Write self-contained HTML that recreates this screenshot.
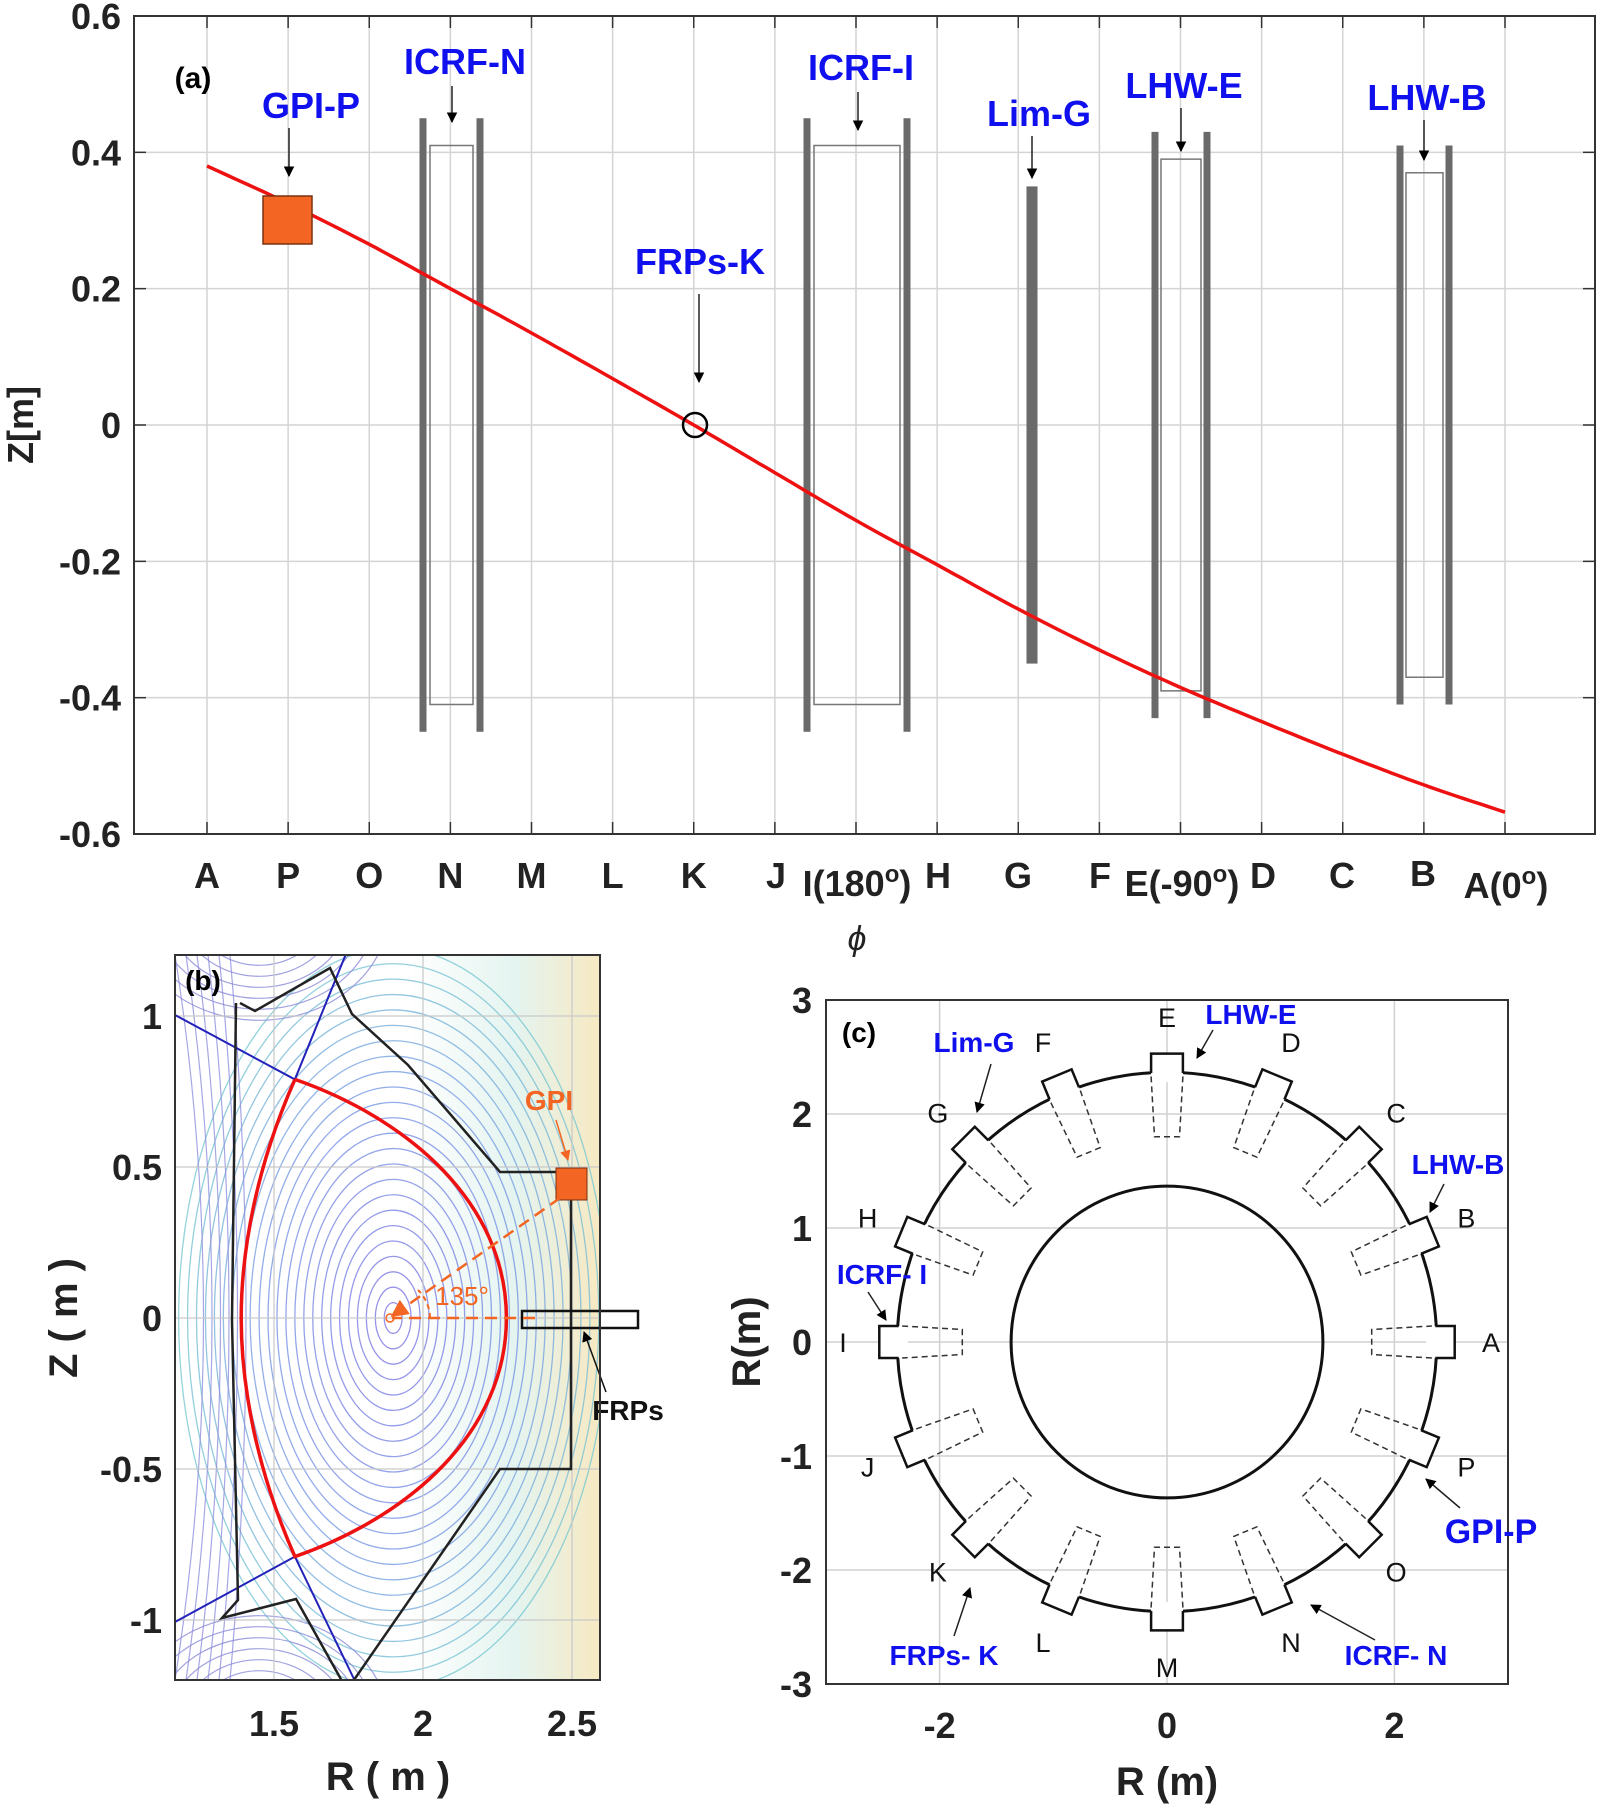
<!DOCTYPE html>
<html><head><meta charset="utf-8"><style>
html,body{margin:0;padding:0;background:#fff}
svg{display:block}
text{font-family:"Liberation Sans",Arial,sans-serif}
</style></head><body>
<svg id="s" width="1600" height="1811" viewBox="0 0 1600 1811" xmlns="http://www.w3.org/2000/svg">
<defs>
<linearGradient id="bg" x1="0" x2="1" y1="0" y2="0">
<stop offset="0" stop-color="#ffffff"/><stop offset="0.55" stop-color="#ffffff"/>
<stop offset="0.8" stop-color="#e4f4f0"/><stop offset="1" stop-color="#f7e9c2"/></linearGradient>
<clipPath id="cb"><rect x="175" y="955" width="425" height="725"/></clipPath>
<marker id="ar" viewBox="0 0 10 10" refX="9" refY="5" markerWidth="7" markerHeight="7" orient="auto"><path d="M0,0 L10,5 L0,10 z" fill="#000"/></marker>
<marker id="ao" viewBox="0 0 10 10" refX="9" refY="5" markerWidth="7" markerHeight="7" orient="auto"><path d="M0,0 L10,5 L0,10 z" fill="#f26522"/></marker>
</defs>
<g id="g"></g>
</svg>
<script>
var g=document.getElementById('g'),NS='http://www.w3.org/2000/svg';
function el(t,a,txt,par){var e=document.createElementNS(NS,t);for(var k in a)e.setAttribute(k,a[k]);if(txt!=null)e.textContent=txt;(par||g).appendChild(e);return e;}
function tx(x,y,s,sz,col,anc,bold,extra){var a={x:x,y:y,'font-size':sz,fill:col||'#000','text-anchor':anc||'middle'};if(bold)a['font-weight']='bold';for(var k in extra)a[k]=extra[k];return el('text',a,s);}
function ln(x1,y1,x2,y2,c,w,extra){var a={x1:x1,y1:y1,x2:x2,y2:y2,stroke:c,'stroke-width':w};for(var k in extra)a[k]=extra[k];return el('line',a);}
var BLUE='#1010ee';
// ===== Panel (a)
function ax(i){return 207+i*81.125;} function ay(z){return 425-z*681.7;}
el('rect',{x:134,y:16,width:1461,height:818,fill:'#fff'});
for(var i=0;i<=16;i++)ln(ax(i),16,ax(i),834,'#d4d4d4',1.5);
[-0.4,-0.2,0,0.2,0.4].forEach(function(z){ln(134,ay(z),1595,ay(z),'#d4d4d4',1.5);});
el('rect',{x:134,y:16,width:1461,height:818,fill:'none',stroke:'#333','stroke-width':2});
for(i=0;i<=16;i++){ln(ax(i),834,ax(i),822,'#333',1.5);ln(ax(i),16,ax(i),28,'#333',1.5);}
[-0.6,-0.4,-0.2,0,0.2,0.4,0.6].forEach(function(z){ln(134,ay(z),146,ay(z),'#333',1.5);ln(1595,ay(z),1583,ay(z),'#333',1.5);
 tx(121,ay(z)+13,z==0?'0':z.toFixed(1),36,'#222','end',1);});
function bar(x,z1,z2,w){el('rect',{x:x-w/2,y:ay(z1),width:w,height:ay(z2)-ay(z1),fill:'#6a6a6a'});}
function ibox(x1,x2,z){el('rect',{x:x1,y:ay(z),width:x2-x1,height:ay(-z)-ay(z),fill:'none',stroke:'#777','stroke-width':1.5});}
ibox(430,473,0.41);bar(423,0.45,-0.45,7);bar(480,0.45,-0.45,7);
ibox(814,900,0.41);bar(807,0.45,-0.45,7);bar(907,0.45,-0.45,7);
bar(1032,0.35,-0.35,11);
ibox(1161,1201,0.39);bar(1155,0.43,-0.43,7);bar(1207,0.43,-0.43,7);
ibox(1406,1443,0.37);bar(1400,0.41,-0.41,7);bar(1449,0.41,-0.41,7);
var zs=[0.38,0.325,0.265,0.2,0.135,0.068,0,-0.07,-0.14,-0.205,-0.27,-0.33,-0.385,-0.435,-0.483,-0.528,-0.568];
function Z(k){if(k<0)return 2*zs[0]-zs[1];if(k>16)return 2*zs[16]-zs[15];return zs[k];}
var d='';for(i=0;i<=160;i++){var t=i/10,k=Math.min(15,Math.floor(t)),f=t-k;
 var p0=Z(k-1),p1=Z(k),p2=Z(k+1),p3=Z(k+2);
 var z=0.5*((2*p1)+(-p0+p2)*f+(2*p0-5*p1+4*p2-p3)*f*f+(-p0+3*p1-3*p2+p3)*f*f*f);
 d+=(i?'L':'M')+ax(t).toFixed(1)+','+ay(z).toFixed(1);}
el('path',{d:d,fill:'none',stroke:'#ee1111','stroke-width':3.5});
el('rect',{x:263,y:196,width:49,height:48,fill:'#f26522',stroke:'#7a3010','stroke-width':1.5});
el('circle',{cx:695,cy:425,r:12,fill:'none',stroke:'#000','stroke-width':2.5});
tx(193,88,'(a)',30,'#000','middle',1);
function lab(x,y,s,ax1,ay1,ay2){tx(x,y,s,36,BLUE,'middle',1);ln(ax1,ay1,ax1,ay2,'#222',1.5,{'marker-end':'url(#ar)'});}
lab(311,118,'GPI-P',289,128,176);
lab(465,74,'ICRF-N',452,86,122);
lab(700,274,'FRPs-K',699,294,382);
lab(861,80,'ICRF-I',858,92,130);
lab(1039,126,'Lim-G',1032,136,178);
lab(1184,98,'LHW-E',1181,108,151);
lab(1427,110,'LHW-B',1424,120,160);
var xl=['A','P','O','N','M','L','K'];
for(i=0;i<7;i++)tx(ax(i),888,xl[i],36,'#222','middle',1);
function sup(x,y,a,b,anc){var t=tx(x,y,'',36,'#222',anc||'middle',1);
 el('tspan',{},a,t);el('tspan',{dy:-14,'font-size':24},'o',t);el('tspan',{dy:14},b,t);}
tx(776,888,'J',36,'#222','middle',1);
sup(857,896,'I(180',')');
tx(938,888,'H',36,'#222','middle',1);
tx(1018,888,'G',36,'#222','middle',1);
tx(1100,888,'F',36,'#222','middle',1);
sup(1182,896,'E(-90',')');
tx(1263,888,'D',36,'#222','middle',1);
tx(1342,888,'C',36,'#222','middle',1);
tx(1423,886,'B',36,'#222','middle',1);
sup(1506,898,'A(0',')');
tx(857,950,'\u03D5',34,'#222','middle',0,{'font-style':'italic','font-family':'Liberation Serif,serif'});
tx(0,0,'Z[m]',36,'#222','middle',1,{transform:'translate(33,425) rotate(-90)'});
// ===== Panel (b)
function bx(R){return 274+(R-1.5)*298;} function by(Z){return 1318-Z*302;}
var cb=el('g',{'clip-path':'url(#cb)'});
el('rect',{x:175,y:955,width:425,height:725,fill:'url(#bg)'},null,cb);
function mix(a,b,f){return 'rgb('+a.map(function(v,i){return Math.round(v+(b[i]-v)*f)}).join(',')+')';}
for(i=1;i<=24;i++){var a=0.03*i,f=i/24;
 var col=f<0.6?mix([125,115,225],[120,150,230],f/0.6):mix([120,150,230],[120,200,210],(f-0.6)/0.4);
 el('ellipse',{cx:bx(1.9),cy:by(0),rx:a*298,ry:a*302*1.7,fill:'none',stroke:col,'stroke-width':1.3,opacity:0.8},null,cb);}
for(i=1;i<=10;i++){[[1.45,1.35],[1.45,-1.35]].forEach(function(c){
 el('ellipse',{cx:bx(c[0]),cy:by(c[1]),rx:i*13,ry:i*11,fill:'none',stroke:'#8a8ad8','stroke-width':1.2,opacity:0.8},null,cb);});}
for(i=0;i<6;i++){el('path',{d:'M'+(175+i*11)+',955 Q'+(232+i*6)+',1318 '+(175+i*11)+',1680',fill:'none',stroke:'#9090dd','stroke-width':1.2,opacity:0.8},null,cb);}
var gg=el('g',{},null,cb);
[1,0.5,0,-0.5,-1].forEach(function(z){el('line',{x1:175,y1:by(z),x2:600,y2:by(z),stroke:'#c8c8c8','stroke-width':1.5,opacity:0.8},null,gg);});
[1.5,2,2.5].forEach(function(r){el('line',{x1:bx(r),y1:955,x2:bx(r),y2:1680,stroke:'#c8c8c8','stroke-width':1.5,opacity:0.8},null,gg);});
el('path',{d:'M175,1015 L'+bx(1.57)+','+by(0.79)+' L'+bx(1.74)+',955',fill:'none',stroke:'#2222bb','stroke-width':2},null,cb);
el('path',{d:'M175,1622 L'+bx(1.57)+','+by(-0.79)+' L'+bx(1.77)+',1680',fill:'none',stroke:'#2222bb','stroke-width':2},null,cb);
el('polyline',{points:'240,1003 255,1011 330,968 352,1014 408,1065 500,1172 571,1172 571,1469 500,1469 347,1690 296,1599 222,1618 238,1600 232,1320 236,1003',fill:'none',stroke:'#222','stroke-width':2.5},null,cb);
function P(R,Z){return bx(R).toFixed(1)+','+by(Z).toFixed(1);}
el('path',{d:'M'+P(1.57,0.79)+' C'+P(1.95,0.66)+' '+P(2.28,0.38)+' '+P(2.28,0)+' C'+P(2.28,-0.38)+' '+P(1.95,-0.66)+' '+P(1.57,-0.79)+' C'+P(1.44,-0.5)+' '+P(1.39,-0.22)+' '+P(1.39,0)+' C'+P(1.39,0.22)+' '+P(1.44,0.5)+' '+P(1.57,0.79),fill:'none',stroke:'#ee1111','stroke-width':3.5},null,cb);
el('rect',{x:522,y:1311,width:116,height:17,fill:'none',stroke:'#111','stroke-width':2.5});
el('rect',{x:556,y:1168,width:31,height:32,fill:'#f26522',stroke:'#7a3010','stroke-width':1});
el('line',{x1:560,y1:1198,x2:392,y2:1316,stroke:'#f26522','stroke-width':2.5,'stroke-dasharray':'12,7','marker-end':'url(#ao)'});
el('line',{x1:535,y1:1318,x2:392,y2:1318,stroke:'#f26522','stroke-width':2.5,'stroke-dasharray':'12,7'});
el('path',{d:'M430,1318 A40,40 0 0 0 418,1290',fill:'none',stroke:'#f26522','stroke-width':2,'stroke-dasharray':'5,4'});
el('circle',{cx:390,cy:1318,r:4,fill:'none',stroke:'#f26522','stroke-width':1.5});
tx(462,1305,'135\u00B0',26,'#f26522','middle',0);
tx(549,1110,'GPI',28,'#f26522','middle',1);
ln(556,1120,568,1160,'#f26522',1.5,{'marker-end':'url(#ao)'});
tx(628,1420,'FRPs',28,'#111','middle',1);
ln(606,1392,584,1332,'#111',1.5,{'marker-end':'url(#ar)'});
tx(203,990,'(b)',28,'#000','middle',1);
el('rect',{x:175,y:955,width:425,height:725,fill:'none',stroke:'#333','stroke-width':2});
[[1,'1'],[0.5,'0.5'],[0,'0'],[-0.5,'-0.5'],[-1,'-1']].forEach(function(v){tx(162,by(v[0])+13,v[1],36,'#222','end',1);});
[[1.5,'1.5'],[2,'2'],[2.5,'2.5']].forEach(function(v){tx(bx(v[0]),1736,v[1],36,'#222','middle',1);});
tx(388,1790,'R ( m )',40,'#222','middle',1);
tx(0,0,'Z ( m )',40,'#222','middle',1,{transform:'translate(77,1318) rotate(-90)'});
// ===== Panel (c)
function cx(X){return 1167+X*113.7;} function cy(Y){return 1342-Y*114;}
el('rect',{x:826,y:1000,width:682,height:684,fill:'#fff'});
[-2,0,2].forEach(function(v){ln(cx(v),1000,cx(v),1684,'#d0d0d0',1.5);});
[-2,-1,0,1,2].forEach(function(v){ln(826,cy(v),1508,cy(v),'#d0d0d0',1.5);});
el('rect',{x:826,y:1000,width:682,height:684,fill:'none',stroke:'#333','stroke-width':2});
[-3,-2,-1,0,1,2,3].forEach(function(v){tx(812,cy(v)+13,String(v),36,'#222','end',1);});
[-2,0,2].forEach(function(v){tx(cx(v),1738,String(v),36,'#222','middle',1);});
tx(1167,1795,'R (m)',40,'#222','middle',1);
tx(0,0,'R(m)',40,'#222','middle',1,{transform:'translate(760,1342) rotate(-90)'});
el('circle',{cx:cx(0),cy:cy(0),r:2.37*113.8,fill:'none',stroke:'#111','stroke-width':3});
el('circle',{cx:cx(0),cy:cy(0),r:1.37*113.8,fill:'none',stroke:'#111','stroke-width':3});
function pt(th,r,t){var c=Math.cos(th),s=Math.sin(th);return [cx(r*c-t*s),cy(r*s+t*c)];}
function pts(a){return a.map(function(p){return p[0].toFixed(1)+','+p[1].toFixed(1)}).join(' ');}
var letters='APONMLKJIHGFEDCB'.split('');
for(i=0;i<16;i++){var th=-i*22.5*Math.PI/180;
 el('polygon',{points:pts([pt(th,2.28,-0.14),pt(th,2.53,-0.14),pt(th,2.53,0.14),pt(th,2.28,0.14)]),fill:'#fff'});
 el('polyline',{points:pts([pt(th,2.36,-0.14),pt(th,2.53,-0.14),pt(th,2.53,0.14),pt(th,2.36,0.14)]),fill:'none',stroke:'#111','stroke-width':2.5});
 el('polyline',{points:pts([pt(th,2.33,-0.14),pt(th,1.8,-0.11),pt(th,1.8,0.11),pt(th,2.33,0.14)]),fill:'none',stroke:'#333','stroke-width':1.5,'stroke-dasharray':'6,4'});
 var q=pt(th,2.85,0);tx(q[0],q[1]+10,letters[i],27,'#111','middle',0);}
tx(859,1042,'(c)',28,'#000','middle',1);
function cl(x,y,s,sz,x1,y1,x2,y2){tx(x,y,s,sz,BLUE,'middle',1);ln(x1,y1,x2,y2,'#222',1.5,{'marker-end':'url(#ar)'});}
cl(1251,1024,'LHW-E',28,1213,1030,1197,1058);
cl(974,1052,'Lim-G',28,991,1064,977,1112);
cl(1458,1174,'LHW-B',28,1444,1184,1430,1212);
cl(882,1284,'ICRF- I',28,868,1292,886,1320);
cl(1491,1543,'GPI-P',34,1460,1508,1426,1479);
cl(944,1665,'FRPs- K',28,954,1636,970,1588);
cl(1396,1665,'ICRF- N',28,1375,1640,1311,1605);
</script>
</body></html>
